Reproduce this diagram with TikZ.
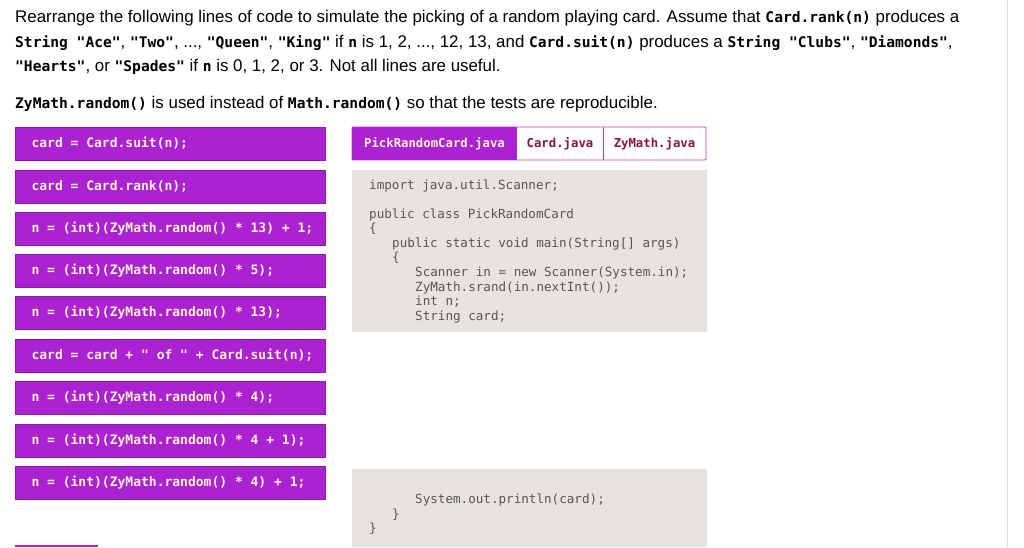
\documentclass[tikz,border=0pt]{standalone}
\usepackage{fontspec}
\setmainfont{Liberation Sans}
\setmonofont{DejaVu Sans Mono}
\definecolor{pur}{HTML}{AA22D2}
\definecolor{gbox}{HTML}{E6E3DF}
\definecolor{tabred}{HTML}{8A1538}
\definecolor{codeg}{HTML}{555555}
\definecolor{cream}{HTML}{FFF3C8}
\begin{document}
\begin{tikzpicture}[x=1pt,y=-1pt,
 blk/.style={fill=pur,draw=pur!80!black,line width=0.6pt,minimum width=310pt,minimum height=33pt,anchor=north west,inner sep=0pt},
 blktxt/.style={anchor=west,text=cream,font=\fontsize{13}{14}\selectfont\ttfamily\bfseries},
 code/.style={anchor=west,text=codeg,font=\fontsize{12.6}{14}\selectfont\ttfamily,inner sep=0pt},
 hdr/.style={anchor=west,inner sep=0pt,font=\fontsize{16.9}{19}\selectfont},
 tab/.style={anchor=center,font=\fontsize{12.3}{14}\selectfont\ttfamily\bfseries}]
\useasboundingbox (0,0) rectangle (1024,547);
\fill[white] (0,0) rectangle (1024,547);
\draw[gray!30,line width=1pt] (1007,0) -- (1007,547);
\newcommand{\cw}[1]{{\ttfamily\bfseries\fontsize{14.6}{17}\selectfont #1}}
\node[hdr] (h1) at (15,18) {Rearrange the following lines of code to simulate the picking of a random playing card. Assume that \cw{Card.rank(n)} produces a};
\node[hdr] (h2) at (15,43) {\cw{String "Ace"}, \cw{"Two"}, ..., \cw{"Queen"}, \cw{"King"} if \cw{n} is 1, 2, ..., 12, 13, and \cw{Card.suit(n)} produces a \cw{String "Clubs"}, \cw{"Diamonds"},};
\node[hdr] (h3) at (15,67) {\cw{"Hearts"}, or \cw{"Spades"} if \cw{n} is 0, 1, 2, or 3. Not all lines are useful.};
\node[hdr] (h4) at (15,104) {\cw{ZyMath.random()} is used instead of \cw{Math.random()} so that the tests are reproducible.};
\foreach \y/\t [count=\i] in {127/{card = Card.suit(n);},170/{card = Card.rank(n);},212/{n = (int)(ZyMath.random() * 13) + 1;},254/{n = (int)(ZyMath.random() * 5);},296/{n = (int)(ZyMath.random() * 13);},339/{card = card + " of " + Card.suit(n);},381/{n = (int)(ZyMath.random() * 4);},424/{n = (int)(ZyMath.random() * 4 + 1);},466/{n = (int)(ZyMath.random() * 4) + 1;}}{
 \node[blk] (b\i) at (15,\y) {};
 \node[blktxt] (t\i) at (28,\y+16.5) {\t};
}
\fill[pur] (15,545) rectangle (98,547);
% tabs
\draw[pur!70!orange,line width=0.8pt,rounded corners=1pt] (352,127) rectangle (706,160);
\fill[pur] (352.4,127.4) rectangle (517,159.6);
\draw[pur!70!orange,line width=0.6pt] (603,127) -- (603,160);
\node[tab,text=cream] (tab1) at (434.5,143.5) {PickRandomCard.java};
\node[tab,text=tabred] (tab2) at (560,143.5) {Card.java};
\node[tab,text=tabred] (tab3) at (654.5,143.5) {ZyMath.java};
% code boxes
\fill[gbox] (352,170) rectangle (707,332);
\fill[gbox] (352,469) rectangle (707,547);
\node[code] (c1) at (369,186) {import java.util.Scanner;};
\node[code] (c2) at (369,215) {public class PickRandomCard};
\node[code] (c3) at (369,229) {\{};
\node[code] (c4) at (392,244) {public static void main(String[] args)};
\node[code] (c5) at (392,258) {\{};
\node[code] (c6) at (415,273) {Scanner in = new Scanner(System.in);};
\node[code] (c7) at (415,288) {ZyMath.srand(in.nextInt());};
\node[code] (c8) at (415,302) {int n;};
\node[code] (c9) at (415,317) {String card;};
\node[code] (d1) at (415,500) {System.out.println(card);};
\node[code] (d2) at (392,515) {\}};
\node[code] (d3) at (369,529) {\}};
\end{tikzpicture}
\end{document}
